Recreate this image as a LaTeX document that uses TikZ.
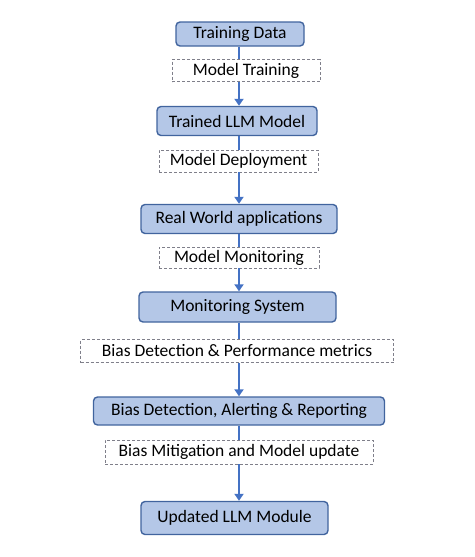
\documentclass[tikz,border=0pt]{standalone}
\usepackage{fontspec}
\setmainfont{Carlito}
\usetikzlibrary{arrows.meta}
\definecolor{boxfill}{HTML}{B4C7E7}
\definecolor{boxline}{HTML}{41649E}
\definecolor{arrowcol}{HTML}{4472C4}
\definecolor{dashline}{HTML}{7F7F8A}
\begin{document}
\begin{tikzpicture}[x=1pt,y=-1pt,
  stagebox/.style={draw=boxline, fill=boxfill, line width=1.4pt, rounded corners=4pt,
    inner sep=0pt, font=\fontsize{17.5}{20}\selectfont, text=black},
  labelbox/.style={draw=dashline, fill=white, line width=0.9pt, dash pattern=on 3pt off 2pt,
    inner sep=0pt, font=\fontsize{17.5}{20}\selectfont, text=black},
  link/.style={draw=arrowcol, line width=2.6pt},
  linkarrow/.style={link, -{Triangle[length=7pt,width=9pt]}}]
\useasboundingbox (0,0) rectangle (474,557);
\node[stagebox, minimum width=128pt, minimum height=24pt] (td) at (240,34) {Training Data};
\node[labelbox, minimum width=148pt, minimum height=22pt] (l1) at (246,70.5) {Model Training};
\node[stagebox, minimum width=160pt, minimum height=29pt] (tl) at (237,121) {Trained LLM Model};
\node[labelbox, minimum width=159pt, minimum height=22pt] (l2) at (238.5,161) {Model Deployment};
\node[stagebox, minimum width=196pt, minimum height=29pt] (rw) at (239,219) {Real World applications};
\node[labelbox, minimum width=160pt, minimum height=21pt] (l3) at (239,257.5) {Model Monitoring};
\node[stagebox, minimum width=197pt, minimum height=30pt] (ms) at (237.5,307) {Monitoring System};
\node[labelbox, minimum width=313pt, minimum height=23pt] (l4) at (237,351) {Bias Detection \& Performance metrics};
\node[stagebox, minimum width=291pt, minimum height=28pt] (bd) at (239,411) {Bias Detection, Alerting \& Reporting};
\node[labelbox, minimum width=268pt, minimum height=24pt] (l5) at (239,452) {Bias Mitigation and Model update};
\node[stagebox, minimum width=187pt, minimum height=33pt] (up) at (234.5,518) {Updated LLM Module};
\begin{scope}[on background layer/.style={}]
\end{scope}
\draw[link] (td.south -| 239,0) -- (l1.north -| 239,0);
\draw[linkarrow] (l1.south -| 239,0) -- (tl.north -| 239,0);
\draw[link] (tl.south -| 239,0) -- (l2.north -| 239,0);
\draw[linkarrow] (l2.south -| 239,0) -- (rw.north -| 239,0);
\draw[link] (rw.south -| 239,0) -- (l3.north -| 239,0);
\draw[linkarrow] (l3.south -| 239,0) -- (ms.north -| 239,0);
\draw[link] (ms.south -| 239,0) -- (l4.north -| 239,0);
\draw[linkarrow] (l4.south -| 239,0) -- (bd.north -| 239,0);
\draw[link] (bd.south -| 239,0) -- (l5.north -| 239,0);
\draw[linkarrow] (l5.south -| 239,0) -- (up.north -| 239,0);
\end{tikzpicture}
\end{document}
